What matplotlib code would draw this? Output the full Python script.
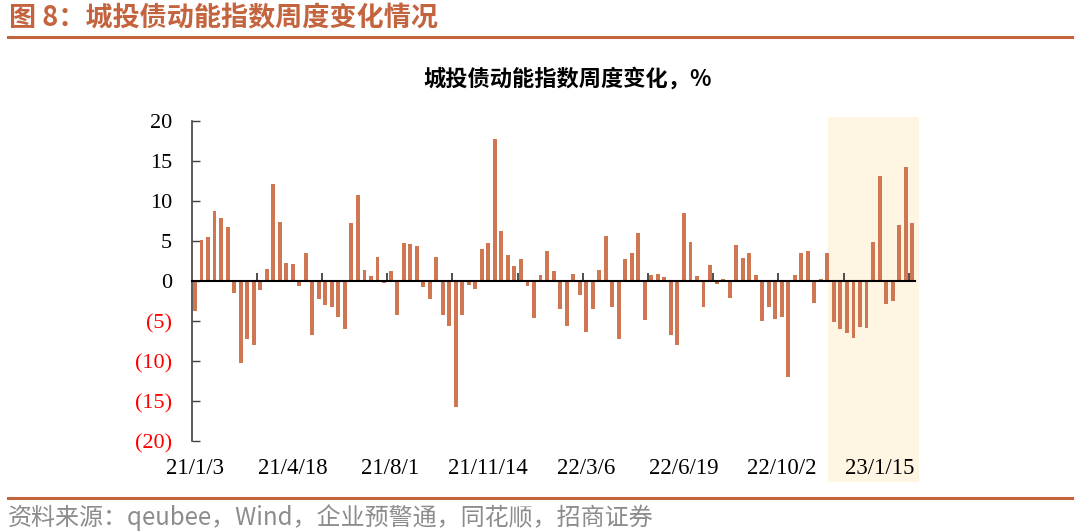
import matplotlib
matplotlib.use('Agg')
import matplotlib.pyplot as plt
import matplotlib.transforms as mtransforms
from matplotlib.patches import Rectangle
from matplotlib.lines import Line2D
import numpy as np

plt.rcParams['font.family'] = ['Liberation Serif', 'Noto Sans CJK SC']

# weekly change of the index, %, 21/1/3 .. 23/2/19
values = [
    -3.7, 5.1, 5.5, 8.7, 7.9, 6.7, -1.5, -10.2, -7.2, -8.0,
    -1.1, 1.5, 12.1, 7.4, 2.3, 2.1, -0.6, 3.5, -6.8, -2.3,
    -3.0, -3.2, -4.5, -6.0, 7.3, 10.8, 1.4, 0.6, 3.0, -0.2,
    1.2, -4.3, 4.7, 4.6, 4.4, -0.8, -2.2, 3.0, -4.3, -5.6,
    -15.8, -4.3, -0.5, -1.0, 4.0, 4.8, 17.8, 6.2, 3.2, 1.9,
    2.8, -0.6, -4.6, 0.7, 3.8, 1.2, -3.5, -5.6, 0.9, -1.7,
    -6.4, -3.5, 1.4, 5.6, -3.2, -7.2, 2.8, 3.5, 6.0, -4.9,
    0.8, 0.9, 0.5, -6.8, -8.0, 8.5, 4.9, 0.6, -3.2, 2.0,
    -0.4, 0.3, -2.1, 4.5, 2.9, 3.5, 0.8, -5.0, -3.2, -4.8,
    -4.5, -12.0, 0.7, 3.5, 3.7, -2.8, 0.3, 3.5, -5.1, -6.0,
    -6.5, -7.1, -5.7, -5.9, 4.9, 13.1, -2.9, -2.5, 7.0, 14.3,
    7.2,
]
date_labels = ['21/1/3', '21/4/18', '21/8/1', '21/11/14',
               '22/3/6', '22/6/19', '22/10/2', '23/1/15']
label_step = 15
tick_step = 10
y_ticks = [20, 15, 10, 5, 0, -5, -10, -15, -20]
highlight_start = 97.1   # shaded recent weeks

bar_color = '#CF7652'
accent = '#C4643F'

fig = plt.figure(figsize=(10.8, 5.31), dpi=100)
ax = fig.add_axes([0.1775, 0.1695, 0.6701, 0.6026])

x = np.arange(len(values))
ax.bar(x, values, width=0.6, color=bar_color, zorder=3)
ax.set_xlim(-0.5, len(values) - 0.5)
ax.set_ylim(-20, 20)

# shaded box over the latest weeks, runs past the axes like the original
trans = mtransforms.blended_transform_factory(ax.transData, ax.transAxes)
ax.add_patch(Rectangle((highlight_start, -0.128), 111.0 - highlight_start, 1.1405,
                       transform=trans, facecolor='#FEF5E3', edgecolor='none',
                       clip_on=False, zorder=0))

# y axis
ax.set_yticks(y_ticks)
ax.set_yticklabels([str(v) if v >= 0 else '(%d)' % -v for v in y_ticks])
for lab, v in zip(ax.get_yticklabels(), y_ticks):
    lab.set_color('black' if v >= 0 else 'red')
ax.tick_params(axis='y', direction='in', length=6, width=1, labelsize=16,
               pad=14, color='#404040')
ax.spines['left'].set_color('#404040')
ax.spines['left'].set_linewidth(1.2)
ax.spines['top'].set_visible(False)
ax.spines['right'].set_visible(False)

# zero line carries the tick marks
ax.spines['bottom'].set_position(('data', 0))
ax.spines['bottom'].set_linewidth(1.5)
ax.spines['bottom'].set_zorder(4)
ax.set_xticks(np.arange(tick_step - 0.5, len(values), tick_step))
ax.tick_params(axis='x', direction='in', length=6, width=1.2, labelbottom=False,
               color='#303030')

# date labels along the bottom
sec = ax.secondary_xaxis('bottom')
sec.set_xticks(np.arange(0, len(date_labels) * label_step, label_step))
sec.set_xticklabels(date_labels)
sec.tick_params(axis='x', length=0, labelsize=16.5, pad=12)
sec.spines['bottom'].set_visible(False)

ax.set_title('城投债动能指数周度变化，%', fontsize=16, fontweight='bold',
             family=['Noto Sans CJK SC', 'DejaVu Sans'], x=0.52, y=1.085)

fig.text(0.008, 0.966, '图 8：城投债动能指数周度变化情况', fontsize=19.5,
         fontweight='bold', color=accent, va='center',
         family=['Noto Sans CJK SC', 'DejaVu Sans'])
fig.text(0.007, 0.026, '资料来源：qeubee，Wind，企业预警通，同花顺，招商证券',
         fontsize=17.3, color='#8C8C8C', va='center',
         family=['Noto Sans CJK SC', 'DejaVu Sans'])
fig.add_artist(Line2D([0.007, 0.993], [0.930, 0.930], color=accent, linewidth=2.2))
fig.add_artist(Line2D([0.007, 0.993], [0.062, 0.062], color=accent, linewidth=2.2))

fig.savefig('out.png', dpi=100)
